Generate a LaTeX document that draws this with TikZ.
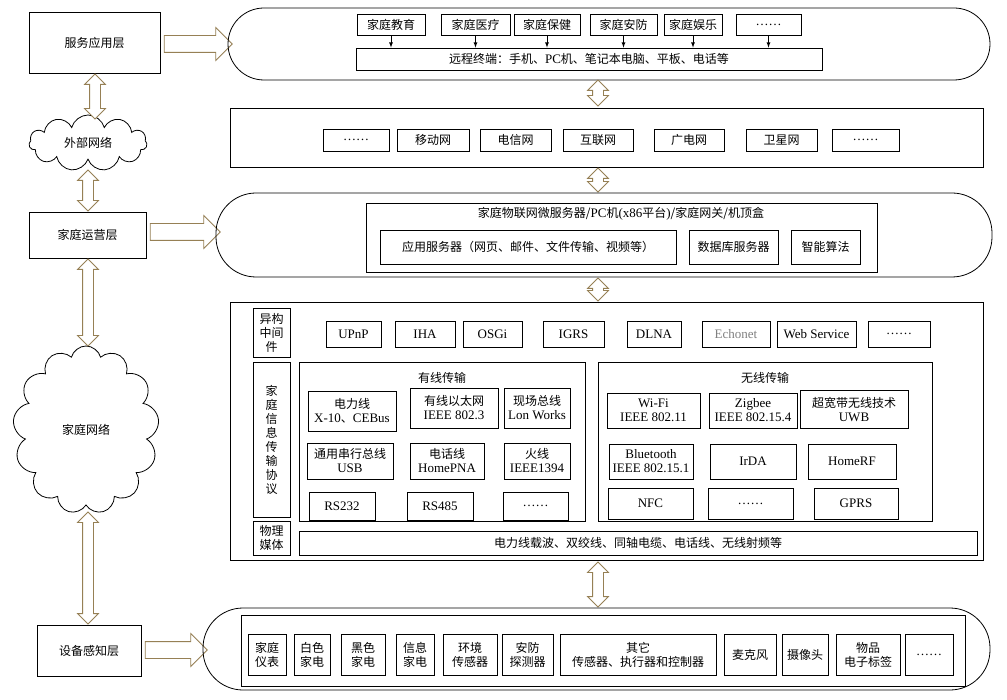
\documentclass[tikz,border=0pt]{standalone}
\usepackage{fontspec}
\setmainfont{Liberation Serif}
\newfontfamily\cjk{Noto Sans CJK SC}
\newcommand\en[1]{{\rmfamily\fontsize{13}{15}\selectfont #1}}
\usetikzlibrary{shapes.arrows,shapes.symbols}
\definecolor{arr}{RGB}{150,128,85}
\tikzset{x=1pt,y=-1pt,
 box/.style={draw,thick,inner sep=1pt,align=center,font=\cjk\fontsize{12}{14}\selectfont},
 big/.style={draw,thick},
 harr/.style={single arrow,draw=arr,fill=white,thick,single arrow head extend=8pt,inner sep=8pt,minimum width=0pt},
 darr/.style={double arrow,draw=arr,fill=white,thick,double arrow head extend=5pt,inner sep=5pt,minimum width=0pt,rotate=90},
 dn/.style={-latex,thick}}
\newcommand\bx[6]{\node[box,minimum width={#4-#2},minimum height={#5-#3}] (#1) at ({(#2+#4)/2},{(#3+#5)/2}) {#6};}
\newcommand\va[4]{\node[darr,minimum height={#4-#3}] (#1) at (#2,{(#3+#4)/2}) {};}
\begin{document}
\begin{tikzpicture}
\useasboundingbox[fill=white] (0,0) rectangle (1007,700);
% left column
\bx{svc}{29}{12}{160}{73}{服务应用层}
\node[cloud,draw,thick,cloud puffs=11,aspect=2,minimum width=118pt,minimum height=56pt,font=\cjk\fontsize{12}{14}\selectfont] (ext) at (88,143) {外部网络};
\bx{ops}{29}{212}{146}{258}{家庭运营层}
\node[cloud,draw,thick,cloud puffs=13,aspect=0.9,minimum width=146pt,minimum height=168pt,font=\cjk\fontsize{12}{14}\selectfont] (hn) at (86,430) {家庭网络};
\bx{dev}{37}{625}{141}{676}{设备感知层}
\va{a1}{95}{74}{119}
\va{a2}{88}{170}{211}
\va{a3}{88}{259}{346}
\va{a4}{88}{512}{624}
\node[harr,minimum height=68pt] (h1) at (194,44) {};
\node[harr,minimum height=70pt] (h2) at (181,232) {};
\node[harr,minimum height=62pt] (h3) at (172,650) {};
% layer 1
\draw[big,rounded corners=36pt] (228,8) rectangle (990,80);
\bx{t1}{357}{14}{425}{35}{家庭教育}
\bx{t2}{441}{14}{510}{35}{家庭医疗}
\bx{t3}{514}{14}{580}{35}{家庭保健}
\bx{t4}{590}{14}{657}{35}{家庭安防}
\bx{t5}{664}{14}{722}{35}{家庭娱乐}
\bx{t6}{736}{14}{801}{35}{\en{……}}
\bx{term}{356}{48}{822}{70}{远程终端：手机、\en{PC}机、笔记本电脑、平板、电话等}
\foreach \i in {t1,t2,t3,t4,t5,t6}{\draw[dn] (\i.south) -- (\i.south|-term.north);}
\va{m1}{598}{80}{106}
% layer 2
\draw[big] (230,108) rectangle (983,167);
\bx{n1}{323}{129}{389}{151}{\en{……}}
\bx{n2}{397}{129}{469}{151}{移动网}
\bx{n3}{480}{129}{551}{151}{电信网}
\bx{n4}{563}{129}{633}{151}{互联网}
\bx{n5}{654}{129}{724}{151}{广电网}
\bx{n6}{746}{129}{817}{151}{卫星网}
\bx{n7}{832}{129}{899}{151}{\en{……}}
\va{m2}{598}{168}{192}
% layer 3
\draw[big,rounded corners=40pt] (216,193) rectangle (992,277);
\draw[big] (366,203) rectangle (877,272);
\node[font=\cjk\fontsize{12}{14}\selectfont] (gw) at (621,214) {家庭物联网微服务器/\en{PC}机\en{(x86}平台\en{)}/家庭网关/机顶盒};
\bx{s1}{380}{230}{676}{264}{应用服务器（网页、邮件、文件传输、视频等）}
\bx{s2}{689}{230}{778}{264}{数据库服务器}
\bx{s3}{791}{230}{860}{264}{智能算法}
\va{m3}{598}{278}{301}
% layer 4
\draw[big] (230,302) rectangle (983,560);
\bx{l1}{253}{308}{290}{357}{异构\\中间\\件}
\bx{l2}{253}{362}{290}{517}{家\\庭\\信\\息\\传\\输\\协\\议}
\bx{l3}{253}{521}{290}{555}{物理\\媒体}
\bx{u1}{326}{321}{381}{347}{\en{UPnP}}
\bx{u2}{395}{321}{455}{347}{\en{IHA}}
\bx{u3}{463}{321}{522}{347}{\en{OSGi}}
\bx{u4}{543}{321}{604}{347}{\en{IGRS}}
\bx{u5}{627}{321}{681}{347}{\en{DLNA}}
\bx{u6}{702}{321}{770}{347}{\textcolor{gray}{\en{Echonet}}}
\bx{u7}{777}{321}{856}{347}{\en{Web Service}}
\bx{u8}{868}{321}{930}{347}{\en{……}}
\draw[big] (299,362) rectangle (585,521);
\node[font=\cjk\fontsize{12}{14}\selectfont] (wd) at (442,378) {有线传输};
\bx{w1}{308}{391}{396}{431}{电力线\\\en{X-10}、\en{CEBus}}
\bx{w2}{410}{388}{498}{428}{有线以太网\\\en{IEEE 802.3}}
\bx{w3}{504}{388}{570}{428}{现场总线\\\en{Lon Works}}
\bx{w4}{307}{443}{393}{479}{通用串行总线\\\en{USB}}
\bx{w5}{410}{443}{484}{479}{电话线\\\en{HomePNA}}
\bx{w6}{504}{443}{570}{479}{火线\\\en{IEEE1394}}
\bx{w7}{309}{492}{375}{520}{\en{RS232}}
\bx{w8}{407}{492}{473}{520}{\en{RS485}}
\bx{w9}{503}{492}{568}{520}{\en{……}}
\draw[big] (598,362) rectangle (932,521);
\node[font=\cjk\fontsize{12}{14}\selectfont] (wl) at (765,378) {无线传输};
\bx{r1}{607}{393}{700}{428}{\en{Wi-Fi}\\\en{IEEE 802.11}}
\bx{r2}{709}{393}{797}{428}{\en{Zigbee}\\\en{IEEE 802.15.4}}
\bx{r3}{800}{390}{908}{428}{超宽带无线技术\\\en{UWB}}
\bx{r4}{609}{444}{693}{479}{\en{Bluetooth}\\\en{IEEE 802.15.1}}
\bx{r5}{710}{444}{796}{479}{\en{IrDA}}
\bx{r6}{808}{444}{896}{479}{\en{HomeRF}}
\bx{r7}{608}{488}{693}{519}{\en{NFC}}
\bx{r8}{708}{488}{793}{519}{\en{……}}
\bx{r9}{814}{488}{898}{519}{\en{GPRS}}
\bx{phy}{299}{531}{977}{555}{电力线载波、双绞线、同轴电缆、电话线、无线射频等}
\va{m4}{598}{562}{607}
% layer 5
\draw[big,rounded corners=40pt] (203,608) rectangle (990,690);
\draw[big] (241,615) rectangle (965,686);
\bx{d1}{248}{634}{286}{675}{家庭\\仪表}
\bx{d2}{294}{634}{330}{675}{白色\\家电}
\bx{d3}{341}{634}{385}{675}{黑色\\家电}
\bx{d4}{396}{634}{434}{675}{信息\\家电}
\bx{d5}{443}{634}{497}{675}{环境\\传感器}
\bx{d6}{502}{634}{553}{675}{安防\\探测器}
\bx{d7}{560}{634}{716}{675}{其它\\传感器、执行器和控制器}
\bx{d8}{724}{634}{776}{675}{麦克风}
\bx{d9}{782}{634}{828}{675}{摄像头}
\bx{d10}{836}{634}{900}{675}{物品\\电子标签}
\bx{d11}{905}{634}{953}{675}{\en{……}}
\end{tikzpicture}
\end{document}
